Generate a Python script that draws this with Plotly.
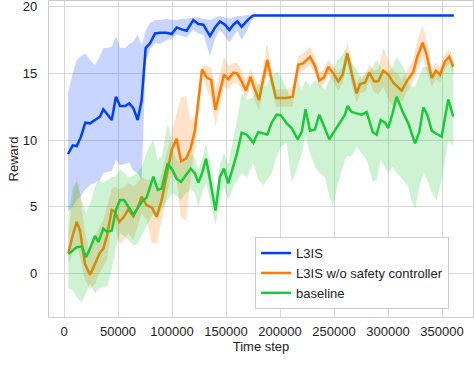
import plotly.graph_objects as go

# ---- data ----
l3is_t = [3700, 8100, 11800, 15700, 19700, 24100, 28700, 33300, 36400, 40100,
          44200, 48100, 51900, 56500, 60500, 64200, 68200, 71900, 75600, 79600,
          84300, 88900, 95100, 99700, 104300, 109000, 113600, 119700, 124300, 129000,
          135200, 139800, 144400, 149100, 153000, 156800, 160500, 164500, 170600, 175300,
          200000, 250000, 300000, 330000, 361000]
l3is_y = [8.95, 9.6, 9.55, 10.25, 11.3, 11.25, 11.5, 11.75, 12.3, 11.9,
          11.5, 13.25, 12.55, 12.55, 12.75, 12.4, 11.5, 13.0, 16.9, 17.25,
          18.0, 18.05, 18.05, 17.95, 18.45, 18.3, 18.2, 19.0, 18.7, 18.65,
          17.8, 18.45, 18.9, 18.65, 18.25, 18.65, 18.9, 18.5, 19.05, 19.35,
          19.35, 19.34, 19.36, 19.35, 19.35]
l3is_hi = [13.5, 15.0, 16.0, 16.3, 16.5, 16.0, 15.6, 16.3, 16.9, 16.9,
           17.0, 17.8, 16.9, 16.9, 17.2, 17.4, 17.9, 17.1, 18.2, 18.8,
           19.0, 19.0, 19.1, 19.0, 19.0, 19.1, 19.1, 19.2, 19.2, 19.1,
           19.0, 19.2, 19.3, 19.2, 19.1, 19.2, 19.3, 19.3, 19.4, 19.42,
           19.42, 19.41, 19.43, 19.42, 19.42]
l3is_lo = [4.6, 5.0, 5.5, 5.8, 6.3, 6.6, 6.8, 7.0, 7.5, 7.6,
           7.7, 8.5, 8.1, 8.2, 8.3, 7.7, 7.5, 7.0, 15.9, 16.8,
           17.3, 17.2, 17.5, 17.6, 17.9, 17.8, 17.7, 18.3, 18.0, 17.9,
           16.3, 17.6, 18.3, 17.8, 17.3, 17.8, 18.2, 17.5, 18.4, 19.28,
           19.28, 19.27, 19.29, 19.28, 19.28]

nosafe_t = [4000, 7900, 11800, 14800, 19400, 24100, 28700, 32900, 36400, 39800,
            44200, 47200, 51200, 55600, 59500, 64200, 68100, 71900, 76600, 81200,
            85800, 90500, 95100, 99700, 104300, 108300, 113000, 117100, 121300, 124300,
            127800, 132100, 136400, 140100, 144400, 148100, 152100, 156800, 160200, 164500,
            168500, 172700, 176400, 180600, 184300, 188200, 192300, 196300, 200900, 206200,
            211700, 216900, 221300, 227800, 232400, 236400, 240700, 244700, 249300, 254000,
            258000, 262300, 267300, 271000, 274100, 278700, 282700, 287000, 291000, 295600,
            300300, 304900, 308800, 312700, 317300, 323400, 327100, 332100, 335800, 340500,
            344400, 348100, 352800, 356700, 360400]
nosafe_y = [1.5, 2.8, 3.85, 3.2, 0.7, -0.1, 0.7, 1.5, 1.85, 2.8,
            4.75, 4.6, 3.85, 4.25, 4.8, 4.25, 4.9, 5.75, 5.1, 4.95,
            4.25, 5.5, 7.35, 9.25, 10.1, 8.4, 8.6, 9.35, 10.75, 13.0,
            15.3, 14.7, 14.5, 12.25, 13.75, 14.9, 14.55, 15.05, 15.0, 14.4,
            13.7, 14.75, 13.85, 13.0, 14.5, 16.0, 14.5, 13.15, 13.15, 13.15,
            13.25, 15.65, 15.75, 16.25, 15.55, 14.45, 14.7, 15.5, 15.0, 14.4,
            14.9, 16.5, 14.65, 13.5, 14.2, 14.3, 15.05, 14.4, 14.4, 15.2,
            14.9, 14.3, 14.0, 13.7, 14.4, 15.1, 16.25, 17.3, 16.4, 14.65,
            15.2, 14.9, 15.9, 16.25, 15.5]
nosafe_hi = [3.0, 5.5, 7.2, 6.0, 3.0, 1.5, 2.8, 3.5, 4.0, 5.0,
             6.3, 6.5, 6.3, 6.5, 6.8, 6.5, 6.8, 7.2, 7.0, 7.0,
             6.5, 7.5, 9.0, 10.5, 12.0, 13.2, 13.3, 11.5, 11.8, 14.0,
             15.6, 15.6, 15.4, 13.8, 15.0, 16.3, 15.5, 15.8, 15.8, 15.2,
             14.5, 15.3, 14.7, 14.0, 15.5, 17.3, 15.2, 13.8, 13.8, 13.8,
             14.0, 16.3, 16.5, 17.0, 16.2, 15.0, 15.3, 16.0, 15.6, 15.0,
             15.5, 17.4, 15.5, 14.2, 14.8, 14.9, 15.7, 15.2, 15.3, 16.9,
             16.0, 15.2, 15.0, 14.5, 15.2, 16.0, 17.5, 18.6, 17.5, 15.3,
             15.8, 15.5, 16.5, 16.8, 16.1]
nosafe_lo = [0.5, 1.5, 2.0, 1.2, -0.5, -1.2, -0.8, 0.0, 0.5, 1.0,
             3.5, 3.5, 2.2, 2.5, 3.0, 2.5, 3.5, 4.5, 4.0, 2.3,
             2.2, 4.0, 5.5, 7.5, 7.0, 4.2, 3.9, 7.0, 9.5, 12.0,
             14.8, 13.8, 13.0, 11.0, 12.5, 14.0, 13.8, 14.3, 14.3, 13.8,
             13.0, 14.1, 13.0, 12.2, 13.8, 15.0, 14.0, 12.5, 12.5, 12.5,
             12.5, 15.0, 15.2, 15.6, 15.0, 13.9, 14.2, 14.9, 14.4, 13.7,
             14.3, 15.8, 13.8, 12.8, 13.5, 13.6, 14.4, 13.6, 13.4, 14.0,
             13.0, 12.5, 13.0, 12.8, 13.6, 14.4, 15.3, 16.2, 15.3, 14.0,
             14.6, 14.3, 15.3, 15.7, 14.9]

base_t = [4000, 8100, 11800, 16400, 20400, 24100, 28700, 31800, 36400, 40100,
          44200, 48100, 51900, 55600, 59500, 64200, 67900, 71900, 76600, 78700,
          82700, 86800, 90500, 96000, 100300, 104300, 108300, 112700, 117300, 121300,
          124300, 127800, 131500, 135200, 140300, 144400, 148100, 152100, 156800, 160200,
          164500, 169200, 175300, 179900, 184500, 188200, 192300, 196900, 200900, 206200,
          210800, 216400, 220100, 223600, 227800, 232400, 236400, 241700, 245600, 249100,
          253000, 256500, 260200, 262500, 266400, 271000, 275600, 280300, 285800, 289500,
          293200, 297200, 300300, 304200, 308000, 314200, 318800, 321900, 325000, 329000,
          332700, 336400, 340500, 345100, 349700, 355800, 360400]
base_y = [1.45, 1.7, 1.95, 2.0, 1.2, 1.85, 2.8, 2.35, 3.35, 3.1,
          3.2, 4.75, 5.5, 5.5, 5.0, 4.4, 4.85, 5.35, 5.7, 6.25,
          7.25, 6.25, 6.35, 8.25, 7.75, 7.1, 6.85, 7.35, 7.85, 7.5,
          6.8, 7.5, 8.6, 7.0, 4.7, 7.25, 7.85, 6.75, 8.1, 9.0,
          10.55, 10.4, 9.8, 10.6, 10.5, 10.4, 11.3, 11.9, 11.85, 11.25,
          10.9, 10.05, 10.6, 12.3, 10.7, 10.8, 11.9, 10.9, 10.05, 10.5,
          11.0, 11.5, 11.9, 12.55, 12.1, 12.0, 11.9, 12.1, 10.6, 10.4,
          11.5, 11.3, 10.9, 12.0, 13.25, 12.0, 11.25, 10.5, 9.75, 10.6,
          12.45, 11.9, 10.7, 10.45, 10.25, 13.05, 11.75]
base_hi = [4.3, 6.5, 6.8, 5.5, 4.5, 5.2, 6.5, 7.0, 6.8, 7.0,
           7.2, 7.3, 7.8, 7.5, 7.2, 7.3, 7.6, 8.0, 9.0, 9.5,
           10.0, 8.5, 8.8, 11.3, 9.5, 8.5, 8.3, 8.5, 9.0, 8.6,
           7.8, 8.5, 9.8, 8.2, 5.8, 8.2, 9.0, 8.2, 10.0, 11.5,
           13.5, 13.0, 13.2, 14.3, 14.0, 14.2, 14.8, 15.1, 14.8, 13.9,
           13.0, 14.4, 13.8, 14.5, 14.0, 14.5, 14.2, 13.8, 14.5, 15.0,
           16.0, 16.2, 16.8, 16.6, 15.8, 15.3, 14.6, 15.0, 15.5, 16.0,
           15.5, 14.8, 15.0, 15.5, 16.2, 15.5, 14.3, 14.0, 14.0, 14.8,
           15.5, 15.5, 15.0, 14.8, 15.2, 16.0, 15.5]
base_lo = [-1.1, -1.3, -1.8, -2.2, -1.5, -0.8, -1.5, -1.2, -1.0, -1.0,
           0.3, 2.0, 3.0, 2.8, 2.5, 2.1, 2.2, 2.8, 3.5, 3.8,
           4.5, 4.0, 4.8, 5.5, 6.0, 5.8, 5.5, 6.0, 6.3, 6.0,
           5.0, 6.0, 6.8, 5.5, 3.6, 5.8, 6.5, 5.5, 6.5, 7.0,
           7.5, 7.2, 8.3, 7.0, 6.6, 7.0, 7.5, 8.8, 9.5, 9.8,
           6.8, 8.0, 9.0, 10.3, 9.0, 8.0, 7.5, 7.2, 5.8, 5.0,
           6.5, 7.5, 8.5, 8.8, 8.8, 9.5, 9.0, 8.5, 6.9, 7.0,
           8.5, 8.0, 7.5, 8.0, 7.5, 7.0, 6.5, 5.5, 4.8, 6.5,
           7.5, 7.0, 6.0, 5.5, 7.0, 10.0, 9.5]

x_ticks = [0, 50000, 100000, 150000, 200000, 250000, 300000, 350000]
y_ticks = [0, 5, 10, 15, 20]

series = [
    ("L3IS", l3is_t, l3is_y, l3is_lo, l3is_hi, (2, 62, 255)),
    ("L3IS w/o safety controller", nosafe_t, nosafe_y, nosafe_lo, nosafe_hi, (255, 124, 0)),
    ("baseline", base_t, base_y, base_lo, base_hi, (26, 201, 56)),
]

fig = go.Figure()
for name, t, y, lo, hi, c in series:
    assert len(t) == len(y) == len(lo) == len(hi), name
    col = "rgb(%d,%d,%d)" % c
    fig.add_trace(go.Scatter(x=t, y=y, mode="lines", name=name,
                             line=dict(color=col, width=2.5)))
    fig.add_trace(go.Scatter(x=list(t) + list(t)[::-1], y=list(lo) + list(hi)[::-1],
                             fill="toself", mode="lines", line=dict(width=0),
                             fillcolor="rgba(%d,%d,%d,0.22)" % c,
                             showlegend=False, hoverinfo="skip"))

font = "Liberation Sans, Arial, sans-serif"
fig.update_layout(
    width=474, height=379,
    margin=dict(l=49, r=1, t=1, b=62),
    paper_bgcolor="white", plot_bgcolor="white",
    font=dict(family=font, size=13, color="#222222"),
    showlegend=True,
    legend=dict(x=0.486, y=0.025, xanchor="left", yanchor="bottom",
                bgcolor="white", bordercolor="#cccccc", borderwidth=1,
                font=dict(size=13, color="#222222"), itemwidth=30,
                tracegroupgap=0),
)
fig.update_xaxes(range=[-13900, 378700], tickvals=x_ticks,
                 ticktext=[str(v) for v in x_ticks], automargin=False,
                 showgrid=True, gridcolor="#d6d6d6", gridwidth=1.2,
                 showline=True, linecolor="#cccccc", linewidth=1.3, mirror=True,
                 zeroline=False, ticks="", ticklabelstandoff=2,
                 ticklabeloverflow="allow",
                 title=dict(text="Time step", standoff=1, font=dict(size=13)))
fig.update_yaxes(range=[-3.28, 20.43], tickvals=y_ticks,
                 ticktext=[str(v) for v in y_ticks], automargin=False,
                 showgrid=True, gridcolor="#d6d6d6", gridwidth=1.2,
                 showline=True, linecolor="#cccccc", linewidth=1.3, mirror=True,
                 zeroline=False, ticks="", ticklabelstandoff=8,
                 ticklabeloverflow="allow",
                 title=dict(text="Reward", standoff=1, font=dict(size=13)))

fig.write_html("out.html", config={"displayModeBar": False},
               post_script="document.body.style.margin='0px';document.body.style.overflow='hidden';")
